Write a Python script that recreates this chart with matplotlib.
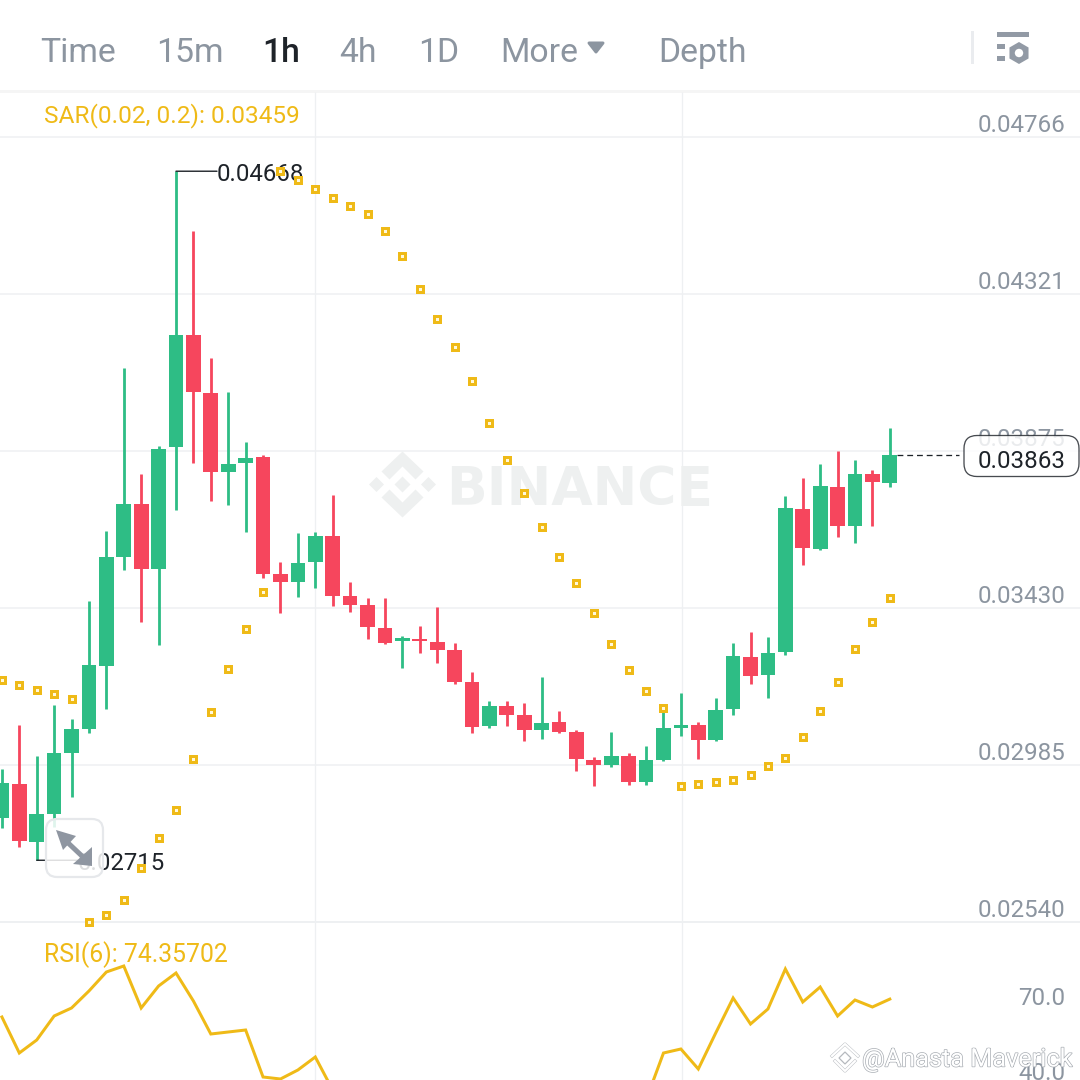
import matplotlib
matplotlib.use("Agg")
import matplotlib.pyplot as plt
import matplotlib.patheffects as pe
from matplotlib.patches import Polygon, Rectangle, FancyBboxPatch, Circle, RegularPolygon

# ---- data ----
opens = [.02835,.02931,.02767,.02846,.03019,.03087,.03266,.03575,.03725,.03541,.03886,.04204,.04039,.03815,.03841,.03858,
         .03526,.03504,.03560,.03634,.03464,.03439,.03373,.03336,.03342,.03334,.03311,.03220,.03096,.03152,.03127,.03084,
         .03107,.03079,.02999,.02985,.03011,.02937,.02999,.03090,.03098,.03056,.03144,.03291,.03240,.03305,.03711,.03597,
         .03773,.03662,.03810,.03784]
highs = [.02974,.03098,.03011,.03155,.03115,.03450,.03648,.04110,.03810,.03889,.04668,.04499,.04139,.04042,.03901,.03864,
         .03560,.03643,.03645,.03750,.03504,.03458,.03458,.03351,.03379,.03433,.03331,.03249,.03166,.03166,.03161,.03234,
         .03138,.03084,.03008,.03079,.03019,.03039,.03138,.03189,.03107,.03175,.03331,.03362,.03348,.03747,.03798,.03838,
         .03875,.03849,.03821,.03940]
lows = [.02806,.02753,.02715,.02809,.02894,.03076,.03144,.03538,.03390,.03325,.03708,.03841,.03733,.03722,.03645,.03515,
        .03416,.03461,.03487,.03436,.03419,.03342,.03328,.03260,.03302,.03274,.03215,.03076,.03090,.03096,.03053,.03059,
        .03076,.02968,.02925,.02979,.02928,.02928,.02996,.03067,.03002,.03053,.03127,.03215,.03175,.03297,.03552,.03594,
        .03631,.03614,.03662,.03773]
closes = [.02934,.02770,.02846,.03019,.03087,.03268,.03575,.03725,.03541,.03881,.04204,.04042,.03815,.03838,.03855,.03526,
          .03504,.03558,.03634,.03464,.03439,.03376,.03331,.03345,.03336,.03311,.03220,.03093,.03152,.03127,.03084,.03104,
          .03079,.03002,.02985,.03011,.02937,.02999,.03090,.03098,.03056,.03141,.03294,.03237,.03302,.03713,.03600,.03776,
          .03662,.03810,.03787,.03863]
sar = [.03226,.03212,.03198,.03186,.03172,.02540,.02560,.02602,.02693,.02778,.02857,.03002,.03135,.03257,.03370,.03475,
       .04668,.04643,.04618,.04592,.04569,.04547,.04499,.04428,.04334,.04249,.04170,.04073,.03954,.03849,.03756,.03660,
       .03575,.03501,.03416,.03328,.03254,.03195,.03147,.02925,.02931,.02937,.02942,.02957,.02982,.03005,.03064,.03138,
       .03220,.03314,.03390,.03459]
rsi = [67.2,52.8,58.0,67.6,70.8,77.6,85.2,87.6,70.8,79.6,84.8,73.6,60.4,61.2,62.0,43.2,42.4,46.0,51.2,
       38,36,33,30,31,30,32,26,24,30,28,27,29,27,22,24,24,22,34,
       52.8,54.4,46.4,60.8,74.8,64.4,70.4,86.4,73.2,79.2,67.6,74.0,71.2,74.36]
price_ticks = [0.02540,0.02985,0.03430,0.03875,0.04321,0.04766]
rsi_ticks = [70.0,40.0]
tabs = ["Time","15m","1h","4h","1D","More","Depth"]
last_price = 0.03863
max_label = 0.04668
min_label = 0.02715

W = H = 1080
DPI = 100
PT = 72/DPI
FONT = "Roboto"
GREEN, RED, YEL = "#2EBD85", "#F6465D", "#EFBA17"
GRID, GREY, INK = "#EEF0F2", "#8C95A0", "#1E2329"
plt.rcParams["font.family"] = [FONT, "DejaVu Sans"]

fig = plt.figure(figsize=(W/DPI, H/DPI), dpi=DPI, facecolor="white")
def pane(top, bottom, z=1):
    return fig.add_axes([0, 1-bottom/H, 1, (bottom-top)/H], zorder=z)

n = len(closes)
xs = list(range(n))
STEP = 17.41
xlim = (-1.9/STEP, (W-1.9)/STEP)

ax = pane(92, 922, 2)
ax.set_xlim(*xlim)
ax.set_ylim(0.02540, 0.02540 + 830*0.00445/157)
ax.patch.set_alpha(0)
ax.axis("off")
ax2 = pane(922, 1080, 2)
ax2.set_xlim(*xlim)
ax2.set_ylim(70-70/2.5, 70+88/2.5)
ax2.patch.set_alpha(0)
ax2.axis("off")

# background layer in pixel coordinates: watermark
bg = fig.add_axes([0,0,1,1], zorder=0)
bg.set_xlim(0,W); bg.set_ylim(H,0); bg.axis("off")
WM = "#EEF0F0"
cx, cy = 402.5, 484.5
for pts in ([(0,-33),(21,-13),(13,-5),(0,-18),(-13,-5),(-21,-13)],
            [(0,33),(21,13),(13,5),(0,18),(-13,5),(-21,13)],
            [(0,-8),(8,0),(0,8),(-8,0)],
            [(-26,-7.5),(-18.5,0),(-26,7.5),(-33.5,0)],
            [(26,-7.5),(33.5,0),(26,7.5),(18.5,0)]):
    bg.add_patch(Polygon([(cx+a,cy+b) for a,b in pts], closed=True, fc=WM, ec="none"))
bg.text(446.5, 484, "BINANCE", fontsize=38.5, fontweight="bold", color=WM, va="center_baseline", ha="left",
        family="DejaVu Sans")
# header
bg.add_patch(Rectangle((0,90),W,3,fc="#F5F5F5",ec="none"))
bg.add_patch(Rectangle((971,31),2.5,33,fc="#EAECEF",ec="none"))

tab_x = [40,156,262,339,418,500,658.5]
for t,x in zip(tabs,tab_x):
    active = t=="1h"
    bg.text(x, 49.5, t, fontsize=24.3, color=INK if active else GREY, fontweight="medium" if active else "normal",
            va="center_baseline", ha="left")
bg.add_patch(Polygon([(589,43),(603,43),(596,52)],closed=True,fc=GREY,ec=GREY,lw=3*PT,joinstyle="round"))
IC = "#929AA5"
bg.add_patch(Rectangle((997,32),32,5,fc=IC,ec="none"))
bg.add_patch(Rectangle((997,44),8,5,fc=IC,ec="none"))
bg.add_patch(Rectangle((997,56),8,5,fc=IC,ec="none"))
bg.add_patch(RegularPolygon((1019,53),6,radius=11,fc=IC,ec="none"))
bg.add_patch(Circle((1019,53),4.2,fc="white",ec="none"))

# vertical grid (both panes)
for xpx in (315, 681.5):
    bg.plot([xpx,xpx],[92,1080],color=GRID,lw=1.3*PT,solid_capstyle="butt")

# horizontal grid + labels
for p in price_ticks:
    ax.axhline(p, color=GRID, lw=(2 if p==price_ticks[0] else 1.5)*PT, zorder=0, clip_on=False)
    ax.annotate(f"{p:.5f}", xy=(1065.5/W, p), xycoords=("axes fraction","data"), xytext=(0,14*PT),
                textcoords="offset points", ha="right", va="center_baseline", fontsize=17.4, color=GREY,
                annotation_clip=False, zorder=1)

# candles
w_body = 14.7/STEP
for i,o,h,l,c in zip(xs,opens,highs,lows,closes):
    col = GREEN if c>=o else RED
    ax.vlines(i, l, h, color=col, lw=2.8*PT, zorder=3)
    ax.bar(i, abs(c-o), bottom=min(o,c), width=w_body, color=col, lw=0, zorder=4)

# high / low leaders
for val,idx in ((max_label,highs.index(max_label)),(min_label,lows.index(min_label))):
    ax.annotate("", xy=(idx,val), xytext=(41*PT,0), textcoords="offset points",
                arrowprops=dict(arrowstyle="-", color=INK, lw=1.4*PT, shrinkA=0, shrinkB=0), zorder=5)
    ax.annotate(f"{val:.5f}", xy=(idx,val), xytext=(41*PT,-0.5*PT), textcoords="offset points", va="center_baseline",
                ha="left", fontsize=17.3, color=INK, zorder=5)

# SAR
ax.plot(xs, sar, ls="none", marker="s", ms=5.2*PT, mfc="#FFF8DC", mec=YEL, mew=3.0*PT, zorder=6, clip_on=False)

# last price dashes
ax.plot([n-1+0.4, n-1+4.0],[last_price,last_price], color=INK, lw=1.3*PT, ls=(0,(4.5,3)), zorder=5)

# RSI
ax2.plot(xs, rsi, color=YEL, lw=3*PT, solid_joinstyle="miter", zorder=3)
for r in rsi_ticks:
    ax2.annotate(f"{r:.1f}", xy=(1065.5/W,r), xycoords=("axes fraction","data"), xytext=(0,14*PT),
                 textcoords="offset points", ha="right", va="center_baseline", fontsize=17.4, color=GREY,
                 annotation_clip=False, zorder=4)

# overlay
ov = fig.add_axes([0,0,1,1], zorder=5)
ov.set_xlim(0,W); ov.set_ylim(H,0); ov.axis("off"); ov.patch.set_alpha(0)
ov.text(44,112.5,f"SAR(0.02, 0.2): {sar[-1]:.5f}",fontsize=17.6,color=YEL,va="center_baseline",ha="left")
ov.text(44,952,"RSI(6): 74.35702",fontsize=17.8,color=YEL,va="center_baseline",ha="left")
ov.add_patch(FancyBboxPatch((964,435.5),115,41,boxstyle="round,pad=0,rounding_size=13",
                            fc="white",ec=INK,lw=1.3*PT,alpha=0.82,zorder=1))
ov.annotate(f"{last_price:.5f}", xy=(1065.5,last_price), xycoords=(ov.transData,ax.transData), ha="right",
            va="center_baseline", fontsize=17.4, color=INK, zorder=3, xytext=(0,-4*PT), textcoords="offset points")
ov.add_patch(FancyBboxPatch((46,819),57,58,boxstyle="round,pad=0,rounding_size=11",
                            fc=(1,1,1,0.85),ec="#E6E8EB",lw=2.2*PT))
A = "#8F96A1"
ov.add_patch(Polygon([(56,830),(76,836),(63,850)],closed=True,fc=A,ec="none"))
ov.add_patch(Polygon([(92,847),(92,866),(73,864)],closed=True,fc=A,ec="none"))
ov.plot([65,83],[840,857],color=A,lw=5*PT,solid_capstyle="butt")
# author mark
ov.text(862,1057,"@Anasta Maverick",fontsize=18.2,color="white",va="center_baseline",ha="left",
        path_effects=[pe.withStroke(linewidth=1.0,foreground="#A8ADB3")])
M = "#B5B9BE"
ov.plot([832,845,858],[1056,1044,1056],color="white",lw=1.6,path_effects=[pe.withStroke(linewidth=2.2,foreground=M)])
ov.plot([835,845,855],[1061,1071,1061],color="white",lw=1.6,path_effects=[pe.withStroke(linewidth=2.2,foreground=M)])
ov.add_patch(Polygon([(845,1052),(851,1058),(845,1064),(839,1058)],closed=True,fc="white",ec=M,lw=0.9))

fig.savefig("out.png", dpi=DPI, facecolor="white")
